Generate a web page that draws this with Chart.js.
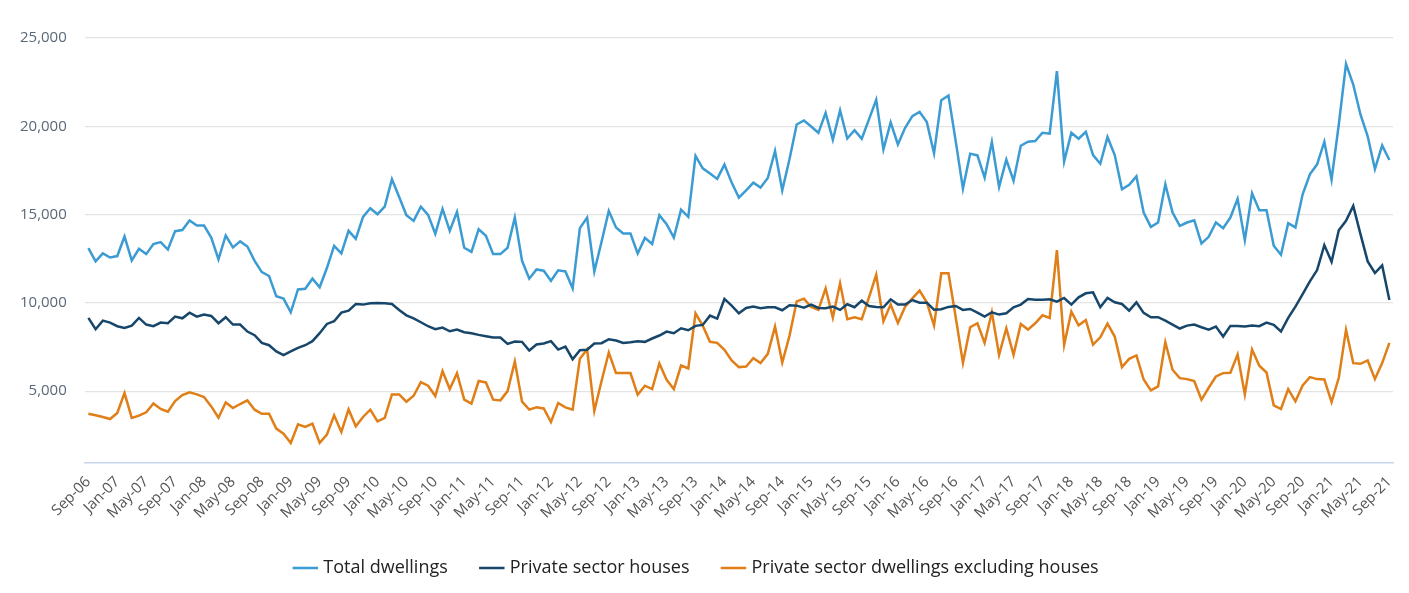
<!DOCTYPE html>
<html lang="en">
<head>
  <meta charset="UTF-8" />
  <title>Dwellings</title>
  <script src="https://cdn.jsdelivr.net/npm/chart.js"></script>
  <style>
    body {
      margin: 0;
      background: #fff;
    }
    #wrap {
      width: 1409px;
      height: 593px;
    }
  </style>
</head>
<body>
  <div id="wrap"><canvas id="chart"></canvas></div>

  <script>
    // monthly, Sep-06 .. Sep-21
    const months = ["Jan","Feb","Mar","Apr","May","Jun","Jul","Aug","Sep","Oct","Nov","Dec"];
    const labels = [];
    for (let y = 2006, m = 8; y < 2021 || (y === 2021 && m <= 8); m++) {
      if (m === 12) { m = 0; y++; }
      labels.push(months[m] + "-" + String(y).slice(2));
    }

    const totalDwellings = [
      13100, 12350, 12800, 12570, 12650, 13760, 12400, 13060, 12760, 13325, 13440, 13020,
      14060, 14120, 14660, 14380, 14380, 13700, 12460, 13815, 13140, 13480, 13190, 12380,
      11740, 11520, 10370, 10240, 9465, 10760, 10800, 11370, 10880, 11970, 13230, 12800,
      14080, 13630, 14870, 15360, 15020, 15450, 17000, 16000, 14960, 14640, 15450, 14980,
      13910, 15320, 14080, 15150, 13120, 12890, 14170, 13800, 12760, 12760, 13120, 14830,
      12380, 11370, 11890, 11820, 11250, 11840, 11780, 10820, 14230, 14830, 11780, 13460,
      15210, 14270, 13930, 13930, 12800, 13680, 13330, 14960, 14455, 13700, 15280, 14870,
      18320, 17620, 17320, 17020, 17830, 16810, 15960, 16375, 16810, 16530, 17070, 18600,
      16375, 18130, 20100, 20330, 19990, 19630, 20760, 19240, 20900, 19310, 19780, 19295,
      20390, 21500, 18690, 20220, 18975, 19915, 20575, 20820, 20235, 18465, 21480, 21740,
      19160, 16470, 18450, 18350, 17090, 19105, 16565, 18110, 16920, 18900, 19125, 19160,
      19635, 19580, 23120, 18000, 19635, 19295, 19690, 18370, 17880, 19390, 18370, 16430,
      16680, 17165, 15115, 14300, 14550, 16715, 15115, 14360, 14550, 14680, 13365, 13740,
      14550, 14230, 14830, 15890, 13550, 16210, 15250, 15250, 13230, 12720, 14510, 14270,
      16150, 17280, 17845, 19125, 16980, 20100, 23530, 22360, 20670, 19430, 17580, 18920,
      18090
    ];

    const privateHouses = [
      9145, 8505, 8995, 8880, 8675, 8580, 8710, 9145, 8770, 8675, 8880, 8845,
      9220, 9125, 9445, 9220, 9335, 9260, 8845, 9185, 8770, 8770, 8375, 8165,
      7735, 7600, 7245, 7035, 7245, 7450, 7600, 7830, 8280, 8805, 8955, 9445,
      9560, 9935, 9900, 9975, 9990, 9975, 9935, 9600, 9295, 9125, 8900, 8675,
      8505, 8600, 8390, 8485, 8335, 8280, 8185, 8110, 8035, 8035, 7675, 7810,
      7790, 7300, 7640, 7695, 7830, 7355, 7525, 6810, 7320, 7340, 7695, 7715,
      7940, 7865, 7730, 7770, 7830, 7790, 7980, 8150, 8375, 8280, 8560, 8450,
      8695, 8750, 9275, 9105, 10220, 9840, 9410, 9710, 9785, 9690, 9750, 9750,
      9580, 9860, 9840, 9730, 9900, 9710, 9690, 9785, 9600, 9920, 9750, 10125,
      9820, 9770, 9750, 10200, 9900, 9900, 10160, 10010, 10010, 9615, 9635, 9770,
      9825, 9600, 9655, 9445, 9220, 9465, 9335, 9410, 9750, 9900, 10220, 10180,
      10180, 10200, 10070, 10275, 9900, 10310, 10540, 10595, 9750, 10275, 10030, 9935,
      9560, 10030, 9430, 9185, 9185, 8995, 8770, 8545, 8710, 8770, 8620, 8485,
      8655, 8090, 8695, 8695, 8655, 8710, 8675, 8880, 8750, 8375, 9145, 9785,
      10500, 11215, 11855, 13270, 12330, 14115, 14645, 15490, 13890, 12345, 11690, 12120,
      10160
    ];

    const privateExclHouses = [
      3720, 3630, 3530, 3420, 3760, 4890, 3480, 3610, 3800, 4300, 3990, 3835,
      4440, 4775, 4930, 4815, 4665, 4135, 3495, 4360, 4040, 4270, 4475, 3950,
      3720, 3720, 2875, 2590, 2065, 3120, 2970, 3160, 2065, 2535, 3630, 2690,
      3965, 3005, 3535, 3950, 3290, 3480, 4815, 4815, 4400, 4740, 5510, 5305,
      4720, 6130, 5115, 6020, 4515, 4290, 5570, 5490, 4515, 4475, 5000, 6680,
      4400, 3950, 4080, 4020, 3250, 4325, 4080, 3950, 6830, 7355, 3875, 5570,
      7185, 6020, 6020, 6020, 4795, 5305, 5115, 6565, 5645, 5115, 6450, 6285,
      9410, 8710, 7790, 7735, 7340, 6735, 6360, 6395, 6865, 6585, 7110, 8655,
      6620, 8130, 10085, 10235, 9765, 9600, 10820, 9165, 11105, 9070, 9185, 9070,
      10310, 11590, 8955, 9900, 8860, 9785, 10255, 10690, 10030, 8710, 11670, 11670,
      9180, 6600, 8620, 8845, 7730, 9465, 7055, 8560, 7055, 8805, 8485, 8845,
      9295, 9145, 12985, 7620, 9500, 8730, 9030, 7640, 8050, 8825, 8090, 6360,
      6830, 7020, 5660, 5040, 5265, 7770, 6210, 5735, 5680, 5570, 4510, 5190,
      5830, 6020, 6040, 7075, 4815, 7355, 6435, 6055, 4195, 3985, 5115, 4420,
      5325, 5795, 5680, 5660, 4380, 5755, 8470, 6585, 6545, 6735, 5680, 6585,
      7730
    ];

    const yTicks = [5000, 10000, 15000, 20000, 25000];

    Chart.defaults.font.family = "'Open Sans', 'Noto Sans', sans-serif";
    Chart.defaults.animation = false;

    const line = (label, data, color) => ({
      label,
      data,
      borderColor: color,
      backgroundColor: color,
      borderWidth: 2.5,
      pointRadius: 0,
      tension: 0,
      fill: false
    });

    new Chart(document.getElementById("chart"), {
      type: "line",
      data: {
        labels,
        datasets: [
          line("Total dwellings", totalDwellings, "#3b9bd3"),
          line("Private sector houses", privateHouses, "#17466b"),
          line("Private sector dwellings excluding houses", privateExclHouses, "#e07e17")
        ]
      },
      options: {
        responsive: true,
        maintainAspectRatio: false,
        layout: { padding: { top: 38, left: 2, right: 16, bottom: 6 } },
        plugins: {
          legend: {
            position: "bottom",
            labels: {
              usePointStyle: true,
              pointStyle: "line",
              boxWidth: 20,
              padding: 35,
              color: "#222",
              font: { size: 18 }
            }
          },
          tooltip: { enabled: false }
        },
        scales: {
          x: {
            offset: true,
            grid: { display: false },
            border: { color: "#c7d6ec", width: 1.5 },
            ticks: {
              autoSkip: false,
              minRotation: 45,
              maxRotation: 45,
              color: "#555",
              font: { size: 15 },
              padding: 2,
              callback: (v, i) => (i % 4 === 0 ? labels[i] : "")
            }
          },
          y: {
            min: 930,
            max: 25000,
            afterBuildTicks: (axis) => { axis.ticks = yTicks.map(v => ({ value: v })); },
            grid: { color: "#e3e3e3", lineWidth: 1.2, drawTicks: false },
            border: { display: false },
            ticks: {
              color: "#5a6877",
              font: { size: 15 },
              padding: 18,
              callback: (v) => v.toLocaleString("en-US")
            }
          }
        }
      }
    });
  </script>
</body>
</html>
